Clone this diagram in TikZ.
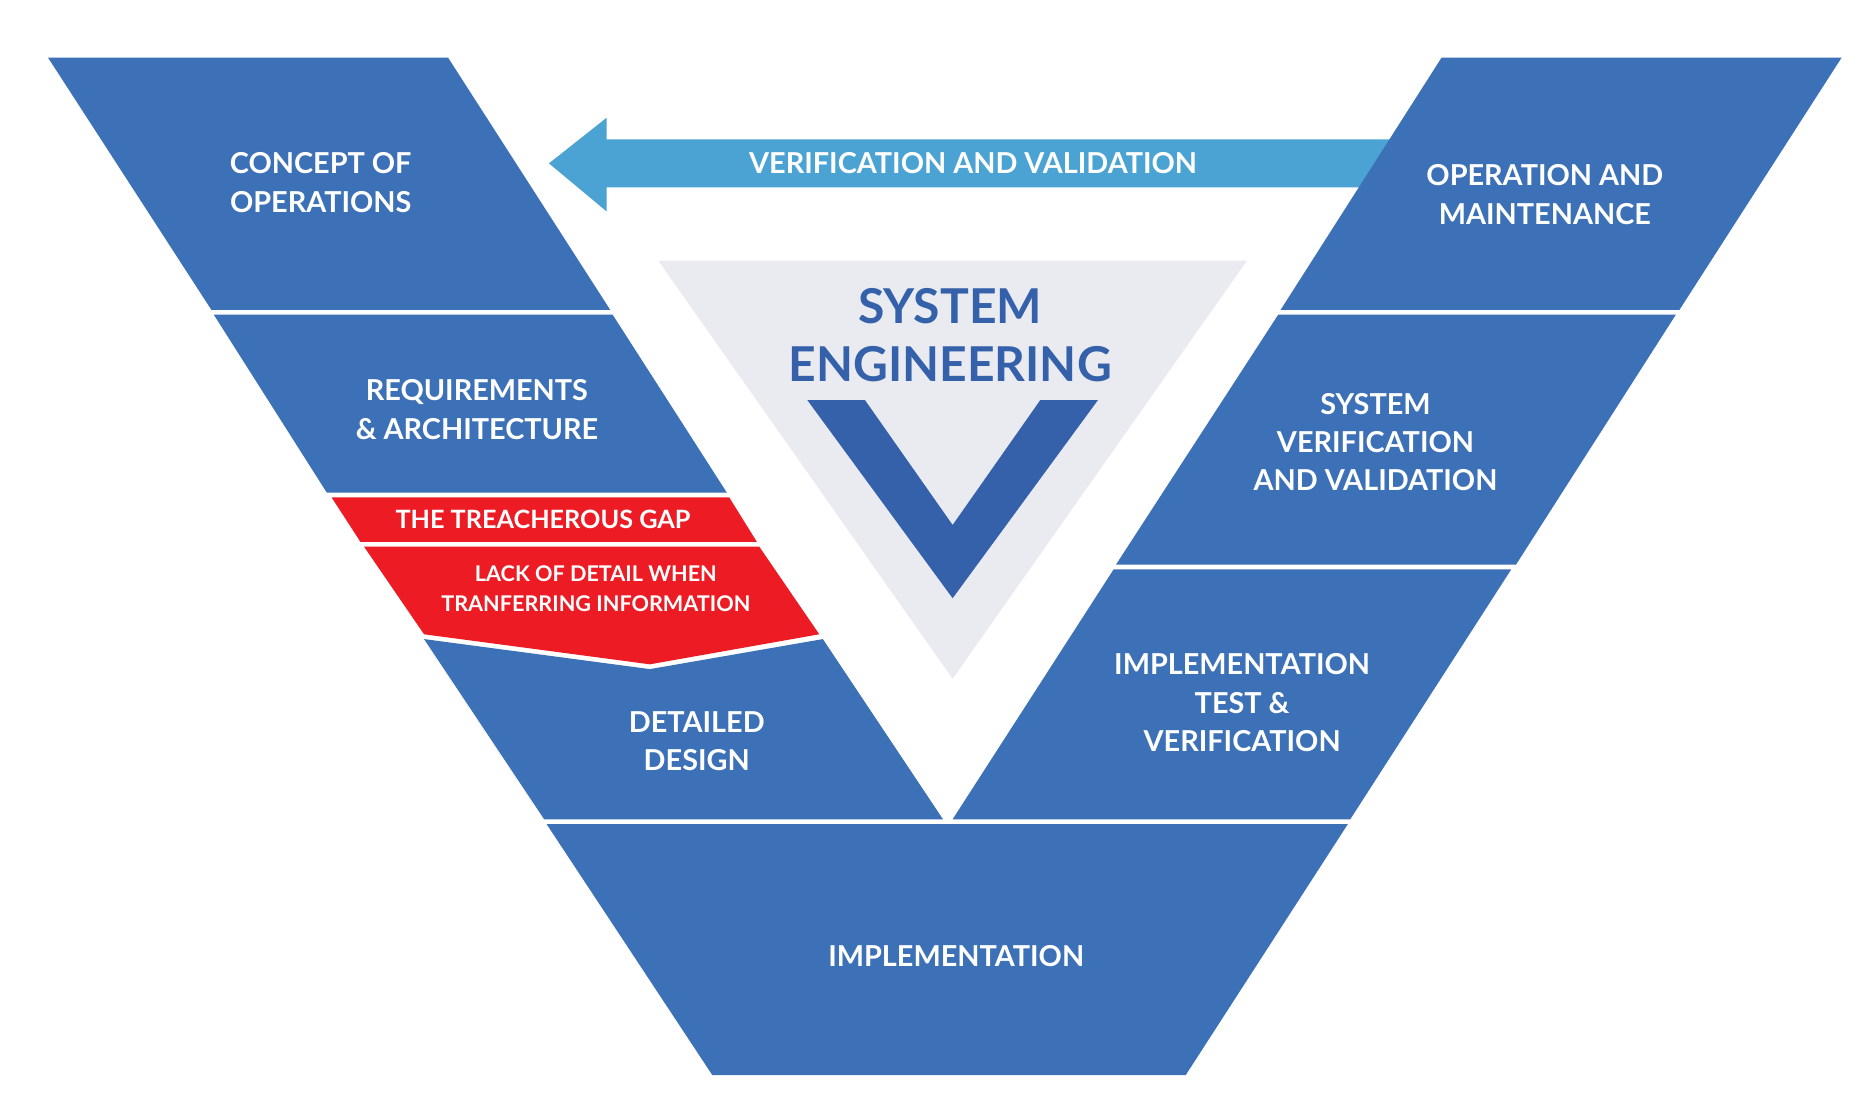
\documentclass[tikz,border=0pt]{standalone}
\usepackage{fontspec}
\setmainfont{Lato}
\begin{document}
\begin{tikzpicture}[x=1pt,y=-1pt,
  band/.style={fill=vblue},
  lbl/.style={text=white,font=\fontsize{24}{32}\selectfont\bfseries,align=center}]
\definecolor{vblue}{HTML}{3C70B7}
\definecolor{vred}{HTML}{ED1C24}
\definecolor{arrowc}{HTML}{4BA3D3}
\definecolor{greyc}{HTML}{EAEBF1}
\definecolor{logoc}{HTML}{3461AA}
\fill[white] (0,0) rectangle (1560,923);
\useasboundingbox (0,0) rectangle (1560,923);
% arrow
\fill[arrowc] (457,136) -- (505,98) -- (505,116) -- (1160,116) -- (1160,156) -- (505,156) -- (505,176) -- cycle;
\node[lbl] (vv) at (810,136) {VERIFICATION AND VALIDATION};
% left arm
\fill[band] (40,48) -- (373,48) -- (508,258) -- (176,258) -- cycle;
\fill[band] (178,262) -- (510,262) -- (605,410) -- (272,410) -- cycle;
\fill[vred] (276,414) -- (607,414) -- (630,451) -- (300,451) -- cycle;
\fill[vred] (303,455) -- (632,455) -- (682,528) -- (541,553) -- (353,528) -- cycle;
\fill[band] (353,532) -- (541,557) -- (685,532) -- (785,682) -- (453,682) -- cycle;
\fill[band] (455,686) -- (1122,686) -- (987,895) -- (593,895) -- cycle;
% right arm
\fill[band] (1200,48) -- (1533,48) -- (1398,258) -- (1066,258) -- cycle;
\fill[band] (1064,262) -- (1395,262) -- (1262,470) -- (929,470) -- cycle;
\fill[band] (927,474) -- (1258,474) -- (1124,682) -- (793,682) -- cycle;
% center
\fill[greyc] (548,217) -- (1038,217) -- (793,565) -- cycle;
\fill[logoc] (672,333) -- (720,333) -- (793,437) -- (866,333) -- (914,333) -- (793,498) -- cycle;
\node[font=\fontsize{40}{48}\selectfont\bfseries,text=logoc,align=center] (se) at (791,279) {SYSTEM\\ENGINEERING};
% labels
\node[lbl] (co) at (267,152) {CONCEPT OF\\OPERATIONS};
\node[lbl] (ra) at (397,341) {REQUIREMENTS\\\& ARCHITECTURE};
\node[text=white,font=\fontsize{21}{26}\selectfont\bfseries] (tg) at (452,432) {THE TREACHEROUS GAP};
\node[text=white,font=\fontsize{18}{25}\selectfont\bfseries,align=center] (ld) at (496,490) {LACK OF DETAIL WHEN\\TRANFERRING INFORMATION};
\node[lbl] (dd) at (580,617) {DETAILED\\DESIGN};
\node[lbl] (im) at (796,796) {IMPLEMENTATION};
\node[lbl] (om) at (1286,162) {OPERATION AND\\MAINTENANCE};
\node[lbl] (sv) at (1145,368) {SYSTEM\\VERIFICATION\\AND VALIDATION};
\node[lbl] (it) at (1034,585) {IMPLEMENTATION\\TEST \&\\VERIFICATION};
\end{tikzpicture}
\end{document}
